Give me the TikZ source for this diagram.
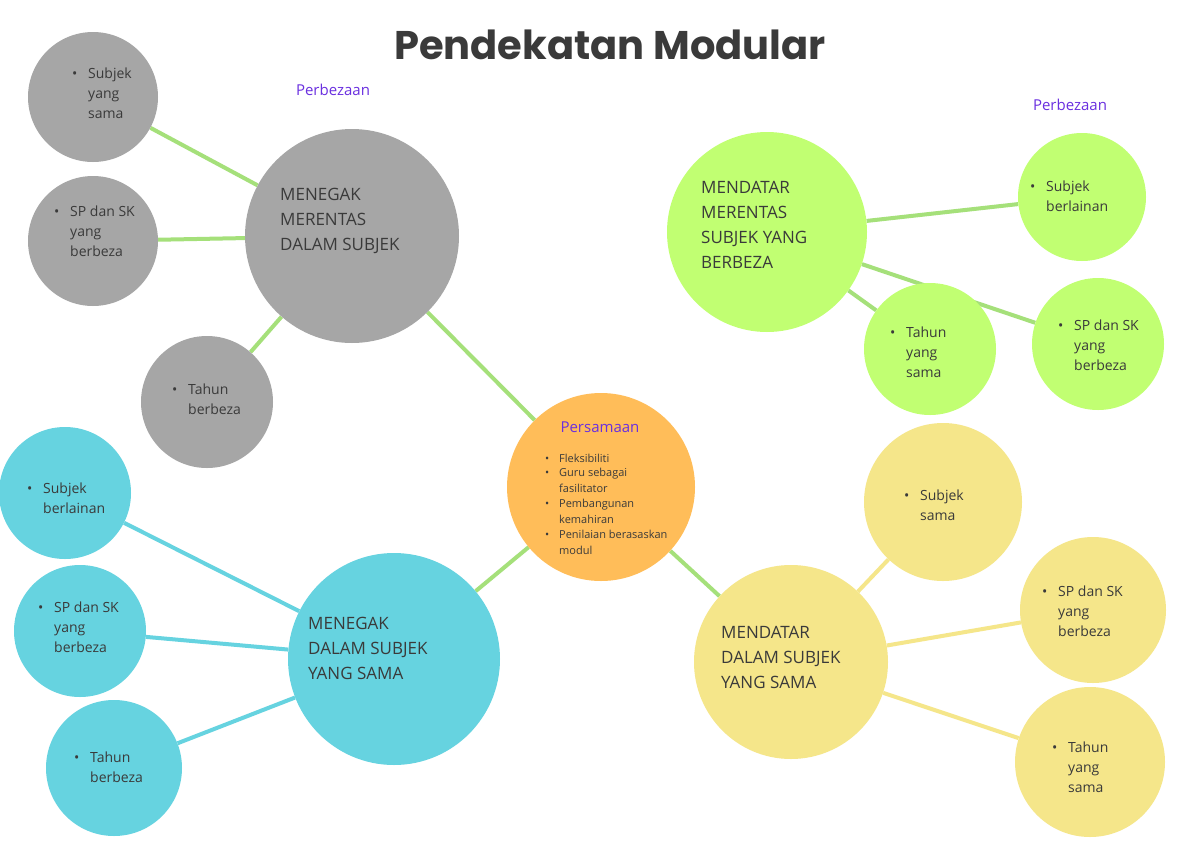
\documentclass[tikz,border=0pt]{standalone}
\usepackage{fontspec}
\usetikzlibrary{backgrounds}
\setmainfont{Open Sans}
\newfontfamily\titlefont{Poppins}
\definecolor{cgrey}{HTML}{A6A6A6}
\definecolor{cgreen}{HTML}{C1FF72}
\definecolor{ccyan}{HTML}{66D3E0}
\definecolor{cyel}{HTML}{F5E68A}
\definecolor{corange}{HTML}{FFBD59}
\definecolor{ctext}{HTML}{3A3A3A}
\definecolor{cpurple}{HTML}{6A2FE0}
\definecolor{lgreen}{HTML}{A5E07A}
\definecolor{lcyan}{HTML}{66D3E0}
\definecolor{lyel}{HTML}{F5E68A}
\newcommand{\bl}[1]{\makebox[16pt][l]{\raisebox{0pt}{\textbullet}}\begin{tabular}[t]{@{}l@{}}#1\end{tabular}}
\begin{document}
\begin{tikzpicture}[x=1pt,y=-1pt,
  circ/.style={circle,inner sep=0pt,draw=none},
  small/.style={font=\fontsize{14}{20}\selectfont,text=ctext,anchor=north west,inner sep=0pt},
  big/.style={font=\fontsize{17}{25}\selectfont,text=ctext,anchor=north west,inner sep=0pt,align=left},
  con/.style={line width=4pt},
  lab/.style={font=\fontsize{15}{18}\selectfont,text=cpurple}]
\useasboundingbox (0,0) rectangle (1200,849);
% circles
\node[circ,fill=cgrey,minimum size=214pt] (gb) at (352,236) {};
\node[circ,fill=cgrey,minimum size=130pt] (g1) at (93,97) {};
\node[circ,fill=cgrey,minimum size=130pt] (g2) at (93,241) {};
\node[circ,fill=cgrey,minimum size=132pt] (g3) at (207,402) {};
\node[circ,fill=corange,minimum size=188pt] (o) at (601,487) {};
\node[circ,fill=cgreen,minimum size=200pt] (nb) at (767,232) {};
\node[circ,fill=cgreen,minimum size=128pt] (n1) at (1082,197) {};
\node[circ,fill=cgreen,minimum size=132pt] (n2) at (930,349) {};
\node[circ,fill=cgreen,minimum size=132pt] (n3) at (1098,344) {};
\node[circ,fill=ccyan,minimum size=212pt] (cb) at (394,659) {};
\node[circ,fill=ccyan,minimum size=132pt] (c1) at (65,493) {};
\node[circ,fill=ccyan,minimum size=132pt] (c2) at (80,631) {};
\node[circ,fill=ccyan,minimum size=136pt] (c3) at (114,768) {};
\node[circ,fill=cyel,minimum size=194pt] (yb) at (791,662) {};
\node[circ,fill=cyel,minimum size=158pt] (y1) at (943,502) {};
\node[circ,fill=cyel,minimum size=146pt] (y2) at (1093,610) {};
\node[circ,fill=cyel,minimum size=150pt] (y3) at (1090,762) {};
% connectors
\begin{scope}[on background layer]
\fill[white] (0,0) rectangle (1200,849);
\draw[con,lgreen] (g1) -- (gb); \draw[con,lgreen] (g2) -- (gb); \draw[con,lgreen] (g3) -- (gb);
\draw[con,lgreen] (gb) -- (o); \draw[con,lgreen] (o) -- (cb); \draw[con,lgreen] (o) -- (yb);
\draw[con,lgreen] (nb) -- (n1); \draw[con,lgreen] (nb) -- (n2); \draw[con,lgreen] (nb) -- (n3);
\draw[con,lcyan] (c1) -- (cb); \draw[con,lcyan] (c2) -- (cb); \draw[con,lcyan] (c3) -- (cb);
\draw[con,lyel] (y1) -- (yb); \draw[con,lyel] (y2) -- (yb); \draw[con,lyel] (y3) -- (yb);
\end{scope}
% title
\node[font=\titlefont\bfseries\fontsize{40}{44}\selectfont,text=ctext] (title) at (610,45) {Pendekatan Modular};
\node[lab] (p1) at (333,90) {Perbezaan};
\node[lab] (p2) at (1070,105) {Perbezaan};
\node[lab] (p3) at (600,427) {Persamaan};
% texts
\node[big] (tgb) at (280,188) {MENEGAK\\MERENTAS\\DALAM SUBJEK};
\node[big] (tnb) at (701,181) {MENDATAR\\MERENTAS\\SUBJEK YANG\\BERBEZA};
\node[big] (tcb) at (308,617) {MENEGAK\\DALAM SUBJEK\\YANG SAMA};
\node[big] (tyb) at (721,626) {MENDATAR\\DALAM SUBJEK\\YANG SAMA};
\node[small] (tg1) at (72,64) {\bl{Subjek\\yang\\sama}};
\node[small] (tg2) at (54,202) {\bl{SP dan SK\\yang\\berbeza}};
\node[small] (tg3) at (172,380) {\bl{Tahun\\berbeza}};
\node[small] (tn1) at (1030,177) {\bl{Subjek\\berlainan}};
\node[small] (tn2) at (890,323) {\bl{Tahun\\yang\\sama}};
\node[small] (tn3) at (1058,316) {\bl{SP dan SK\\yang\\berbeza}};
\node[small] (tc1) at (27,479) {\bl{Subjek\\berlainan}};
\node[small] (tc2) at (38,598) {\bl{SP dan SK\\yang\\berbeza}};
\node[small] (tc3) at (74,748) {\bl{Tahun\\berbeza}};
\node[small] (ty1) at (904,486) {\bl{Subjek\\sama}};
\node[small] (ty2) at (1042,582) {\bl{SP dan SK\\yang\\berbeza}};
\node[small] (ty3) at (1052,738) {\bl{Tahun\\yang\\sama}};
\node[font=\fontsize{11}{15.5}\selectfont,text=ctext,anchor=north west,inner sep=0pt,align=left] (to) at (545,451)
 {\makebox[14pt][l]{\textbullet}\begin{tabular}[t]{@{}l@{}}Fleksibiliti\end{tabular}\\[-1pt]
  \makebox[14pt][l]{\textbullet}\begin{tabular}[t]{@{}l@{}}Guru sebagai\\fasilitator\end{tabular}\\[-1pt]
  \makebox[14pt][l]{\textbullet}\begin{tabular}[t]{@{}l@{}}Pembangunan\\kemahiran\end{tabular}\\[-1pt]
  \makebox[14pt][l]{\textbullet}\begin{tabular}[t]{@{}l@{}}Penilaian berasaskan\\modul\end{tabular}};
\end{tikzpicture}
\end{document}
